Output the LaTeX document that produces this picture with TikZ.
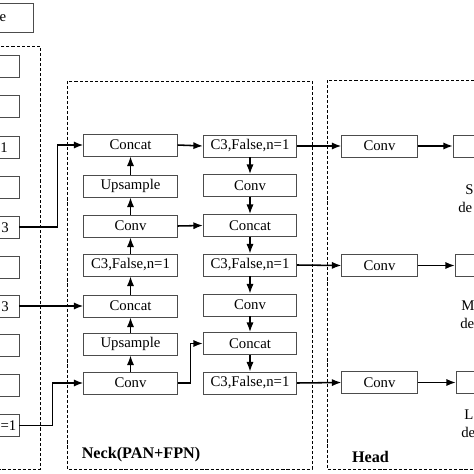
\documentclass[tikz,border=0pt]{standalone}
\usepackage{fontspec}
\setmainfont{Liberation Serif}
\usetikzlibrary{arrows.meta}

\tikzset{
  blk/.style={draw=black!70, line width=0.6pt, fill=white, inner sep=0pt,
    minimum height=0.55cm, font=\fontsize{10.5}{12}\selectfont},
  blkwide/.style={blk, minimum width=2.33cm},
  blkhead/.style={blk, minimum width=1.88cm},
  blkleft/.style={blk, minimum width=1.5cm},
  region/.style={draw=black, line width=0.6pt, dash pattern=on 2.2pt off 1.4pt},
  link/.style={-{Latex[length=2.4mm,width=1.8mm]}, line width=1.1pt},
  tag/.style={font=\fontsize{11.5}{13}\selectfont\bfseries, inner sep=0pt},
  frag/.style={font=\fontsize{10.5}{12}\selectfont, inner sep=0pt}
}

\begin{document}
\begin{tikzpicture}[x=0.025cm, y=-0.025cm]
        \useasboundingbox (0, 0) rectangle (474, 474);
        \clip (0, 0) rectangle (474, 474);

        % dashed regions
        \draw[region] (-20, 46) rectangle (40, 469);
        \draw[region] (67, 81) rectangle (312, 469);
        \draw[region] (327, 80) rectangle (500, 469);
        \node[tag] (necktag) at (141, 455) {Neck(PAN+FPN)};
        \node[tag] (headtag) at (370.5, 457) {Head};

        % top box and backbone column (cut at the left edge)
        \node[blk, minimum width=1.5cm, minimum height=0.725cm] (inp) at (3, 17.5) {};
        \node[frag, anchor=east] (inptxt) at (6.5, 18) {e};
        \node[blkleft] (b1) at (-11, 66) {};
        \node[blkleft] (b2) at (-11, 106.5) {};
        \node[blkleft] (b3) at (-11, 147.5) {};
        \node[blkleft] (b4) at (-11, 187) {};
        \node[blkleft] (b5) at (-11, 227) {};
        \node[blkleft] (b6) at (-11, 267) {};
        \node[blkleft] (b7) at (-11, 306) {};
        \node[blkleft] (b8) at (-11, 345.5) {};
        \node[blkleft] (b9) at (-11, 385.5) {};
        \node[blkleft] (b10) at (-11, 425.5) {};
        \node[frag, anchor=east] (b3txt) at (8, 148) {1};
        \node[frag, anchor=east] (b5txt) at (9, 228) {3};
        \node[frag, anchor=east] (b7txt) at (9, 307) {3};
        \node[frag, anchor=east] (b10txt) at (16.5, 426) {=1};

        % neck, first column
        \node[blkwide] (c1) at (130.5, 145) {Concat};
        \node[blkwide] (c2) at (130.5, 186) {Upsample};
        \node[blkwide] (c3) at (130.5, 226) {Conv};
        \node[blkwide] (c4) at (130.5, 265) {C3,False,n=1};
        \node[blkwide] (c5) at (130.5, 306) {Concat};
        \node[blkwide] (c6) at (130.5, 344) {Upsample};
        \node[blkwide] (c7) at (130.5, 383) {Conv};

        % neck, second column
        \node[blkwide] (d1) at (250, 146) {C3,False,n=1};
        \node[blkwide] (d2) at (250, 185.5) {Conv};
        \node[blkwide] (d3) at (250, 225.5) {Concat};
        \node[blkwide] (d4) at (250, 265) {C3,False,n=1};
        \node[blkwide] (d5) at (250, 305) {Conv};
        \node[blkwide] (d6) at (250, 343.5) {Concat};
        \node[blkwide] (d7) at (250, 383) {C3,False,n=1};

        % head
        \node[blkhead] (h1) at (379.5, 146) {Conv};
        \node[blkhead] (h2) at (379.5, 265.5) {Conv};
        \node[blkhead] (h3) at (379.5, 382.5) {Conv};
        \node[blkhead] (g1) at (491, 146) {};
        \node[blkhead] (g2) at (493, 265.5) {};
        \node[blkhead] (g3) at (494, 382.5) {};
        \node[frag, anchor=west] (s1) at (465, 190) {S};
        \node[frag, anchor=west] (s2) at (458, 207) {de};
        \node[frag, anchor=west] (m1) at (461, 306) {M};
        \node[frag, anchor=west] (m2) at (460, 323) {de};
        \node[frag, anchor=west] (l1) at (464, 415) {L};
        \node[frag, anchor=west] (l2) at (461, 432) {de};

        % backbone to neck
        \draw[link] (b5.east) -- ++(38, 0) |- (c1.west);
        \draw[link] (b7.east) -- (c5.west);
        \draw[link] (b10.east) -- ++(33, 0) |- (c7.west);

        % neck, upward path
        \draw[link] (c7) -- (c6);
        \draw[link] (c6) -- (c5);
        \draw[link] (c5) -- (c4);
        \draw[link] (c4) -- (c3);
        \draw[link] (c3) -- (c2);
        \draw[link] (c2) -- (c1);

        % neck, across and downward path
        \draw[link] (c1.east) -- (d1.west);
        \draw[link] (c3.east) -- (d3.west);
        \draw[link] (c7.east) -- ++(13, 0) |- (d6.west);
        \draw[link] (d1) -- (d2);
        \draw[link] (d2) -- (d3);
        \draw[link] (d3) -- (d4);
        \draw[link] (d4) -- (d5);
        \draw[link] (d5) -- (d6);
        \draw[link] (d6) -- (d7);

        % neck to head
        \draw[link] (d1.east) -- (h1.west);
        \draw[link] (d4.east) -- (h2.west);
        \draw[link] (d7.east) -- (h3.west);
        \draw[link] (h1) -- (g1);
        \draw[link] (h2) -- (g2);
        \draw[link] (h3) -- (g3);
    \end{tikzpicture}
\end{document}
